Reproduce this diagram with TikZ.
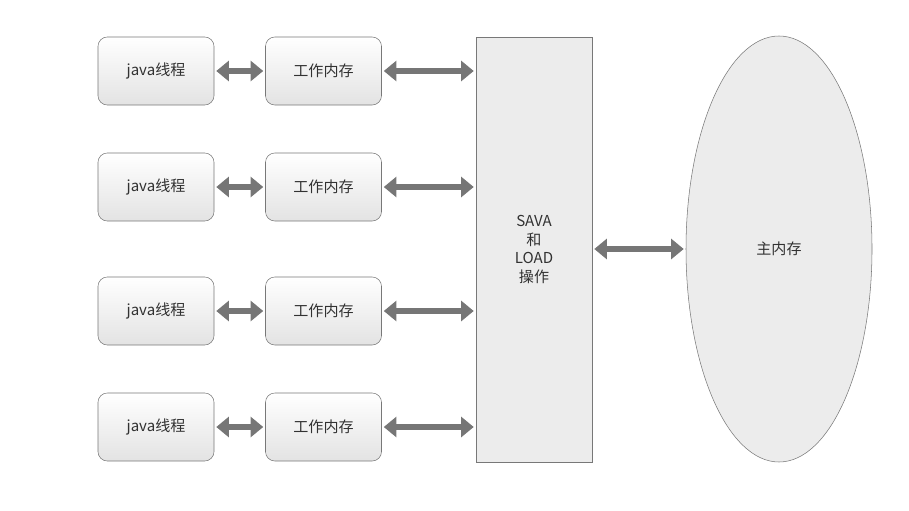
\documentclass[tikz,border=0pt]{standalone}
\usepackage{fontspec}
\setmainfont{Noto Sans CJK SC}
\usetikzlibrary{arrows.meta, positioning, shapes.geometric}
\definecolor{boxedge}{RGB}{120,120,120}
\definecolor{arrowgray}{RGB}{118,118,118}
\definecolor{panelfill}{RGB}{236,236,236}
\definecolor{textgray}{RGB}{50,50,50}

\begin{document}
\begin{tikzpicture}[x=0.75pt, y=-0.75pt, font=\fontsize{11.3}{14}\selectfont, text=textgray]
  \useasboundingbox (0,0) rectangle (909,510);
  \tikzset{
    roundbox/.style={draw=boxedge, rounded corners=7pt, top color=white, bottom color=gray!22,
      minimum width=87pt, minimum height=51pt, inner sep=0pt},
    panel/.style={draw=boxedge, fill=panelfill, minimum width=87pt, minimum height=318.75pt, align=center},
    mainmem/.style={ellipse, draw=boxedge, fill=panelfill, minimum width=139.5pt, minimum height=319.5pt},
    biarrow/.style={arrowgray, line width=4pt, {Triangle[length=9.5pt, width=15pt]}-{Triangle[length=9.5pt, width=15pt]}, shorten <=1.5pt, shorten >=1.5pt}
  }
  \node[panel] (op) at (534,249.5) {SAVA\\和\\LOAD\\操作};
  \node[mainmem] (heap) at (779,249) {主内存};
  \foreach \i/\y in {1/71, 2/187, 3/311, 4/427} {
    \node[roundbox] (t\i) at (156,\y) {java线程};
    \node[roundbox] (w\i) at (323.5,\y) {工作内存};
    \coordinate (p\i) at (op.west |- w\i);
    \draw[biarrow] (t\i) -- (w\i);
    \draw[biarrow] (w\i) -- (p\i);
  }
  \draw[biarrow] (op.east |- heap) -- (heap);
\end{tikzpicture}
\end{document}
